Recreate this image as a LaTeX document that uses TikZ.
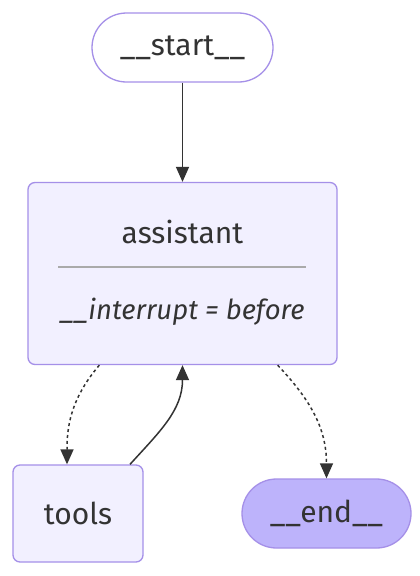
\documentclass[tikz,border=0pt]{standalone}
\usepackage{fontspec}
\setmainfont{Fira Sans}
\usetikzlibrary{arrows.meta,shapes.misc}
\definecolor{nodefill}{HTML}{F2F0FF}
\definecolor{nodeborder}{HTML}{A590E8}
\definecolor{endfill}{HTML}{BDB3FB}
\definecolor{txt}{HTML}{333333}
\definecolor{sepline}{HTML}{AAAAAA}
\tikzset{
  base/.style={draw=nodeborder, line width=1.3pt, text=txt, inner sep=0pt},
  pill/.style={base, rounded rectangle, minimum height=69pt},
  boxnode/.style={base, rectangle, rounded corners=7pt, fill=nodefill},
  lbl/.style={text=txt, inner sep=0pt, font=\fontsize{30}{36}\selectfont},
  edge/.style={draw=txt, line width=1.5pt, -{Triangle[length=15pt,width=13pt]}},
  dedge/.style={edge, dash pattern=on 3pt off 3pt},
}
\begin{document}
\begin{tikzpicture}[x=1pt,y=-1pt]
\useasboundingbox[fill=white] (0,0) rectangle (420,576);
\node[pill, fill=white, minimum width=181pt] (start) at (182.5,47.5) {};
\node[lbl] (starttxt) at (182.5,47.5) {\_\_start\_\_};
\node[boxnode, minimum width=309pt, minimum height=182pt] (assistant) at (182.5,273.5) {};
\node[lbl] (asstxt) at (182.5,232) {assistant};
\coordinate (sepL) at (58,267);
\coordinate (sepR) at (306,267);
\draw[sepline, line width=1.2pt] (sepL) -- (sepR);
\node[lbl, font=\fontsize{27.5}{32}\selectfont\itshape] (intr) at (182.5,312) {\_\_interrupt = before};
\node[boxnode, minimum width=130pt, minimum height=97pt] (tools) at (78,513.5) {};
\node[lbl] (toolstxt) at (78,513.5) {tools};
\node[pill, fill=endfill, minimum width=169pt] (end) at (326.5,513.5) {};
\node[lbl] (endtxt) at (326.5,513.5) {\_\_end\_\_};
\draw[edge] (start.south) -- (assistant.north);
\draw[dedge] ([xshift=72pt]assistant.south west) .. controls +(-30,35) and +(0,-35) .. (tools.north -| 67,0);
\draw[edge] ([xshift=52pt]tools.north) .. controls +(30,-33) and +(0,45) .. (assistant.south);
\draw[dedge] ([xshift=-60pt]assistant.south east) .. controls +(33,35) and +(0,-50) .. (end.north);
\end{tikzpicture}
\end{document}
